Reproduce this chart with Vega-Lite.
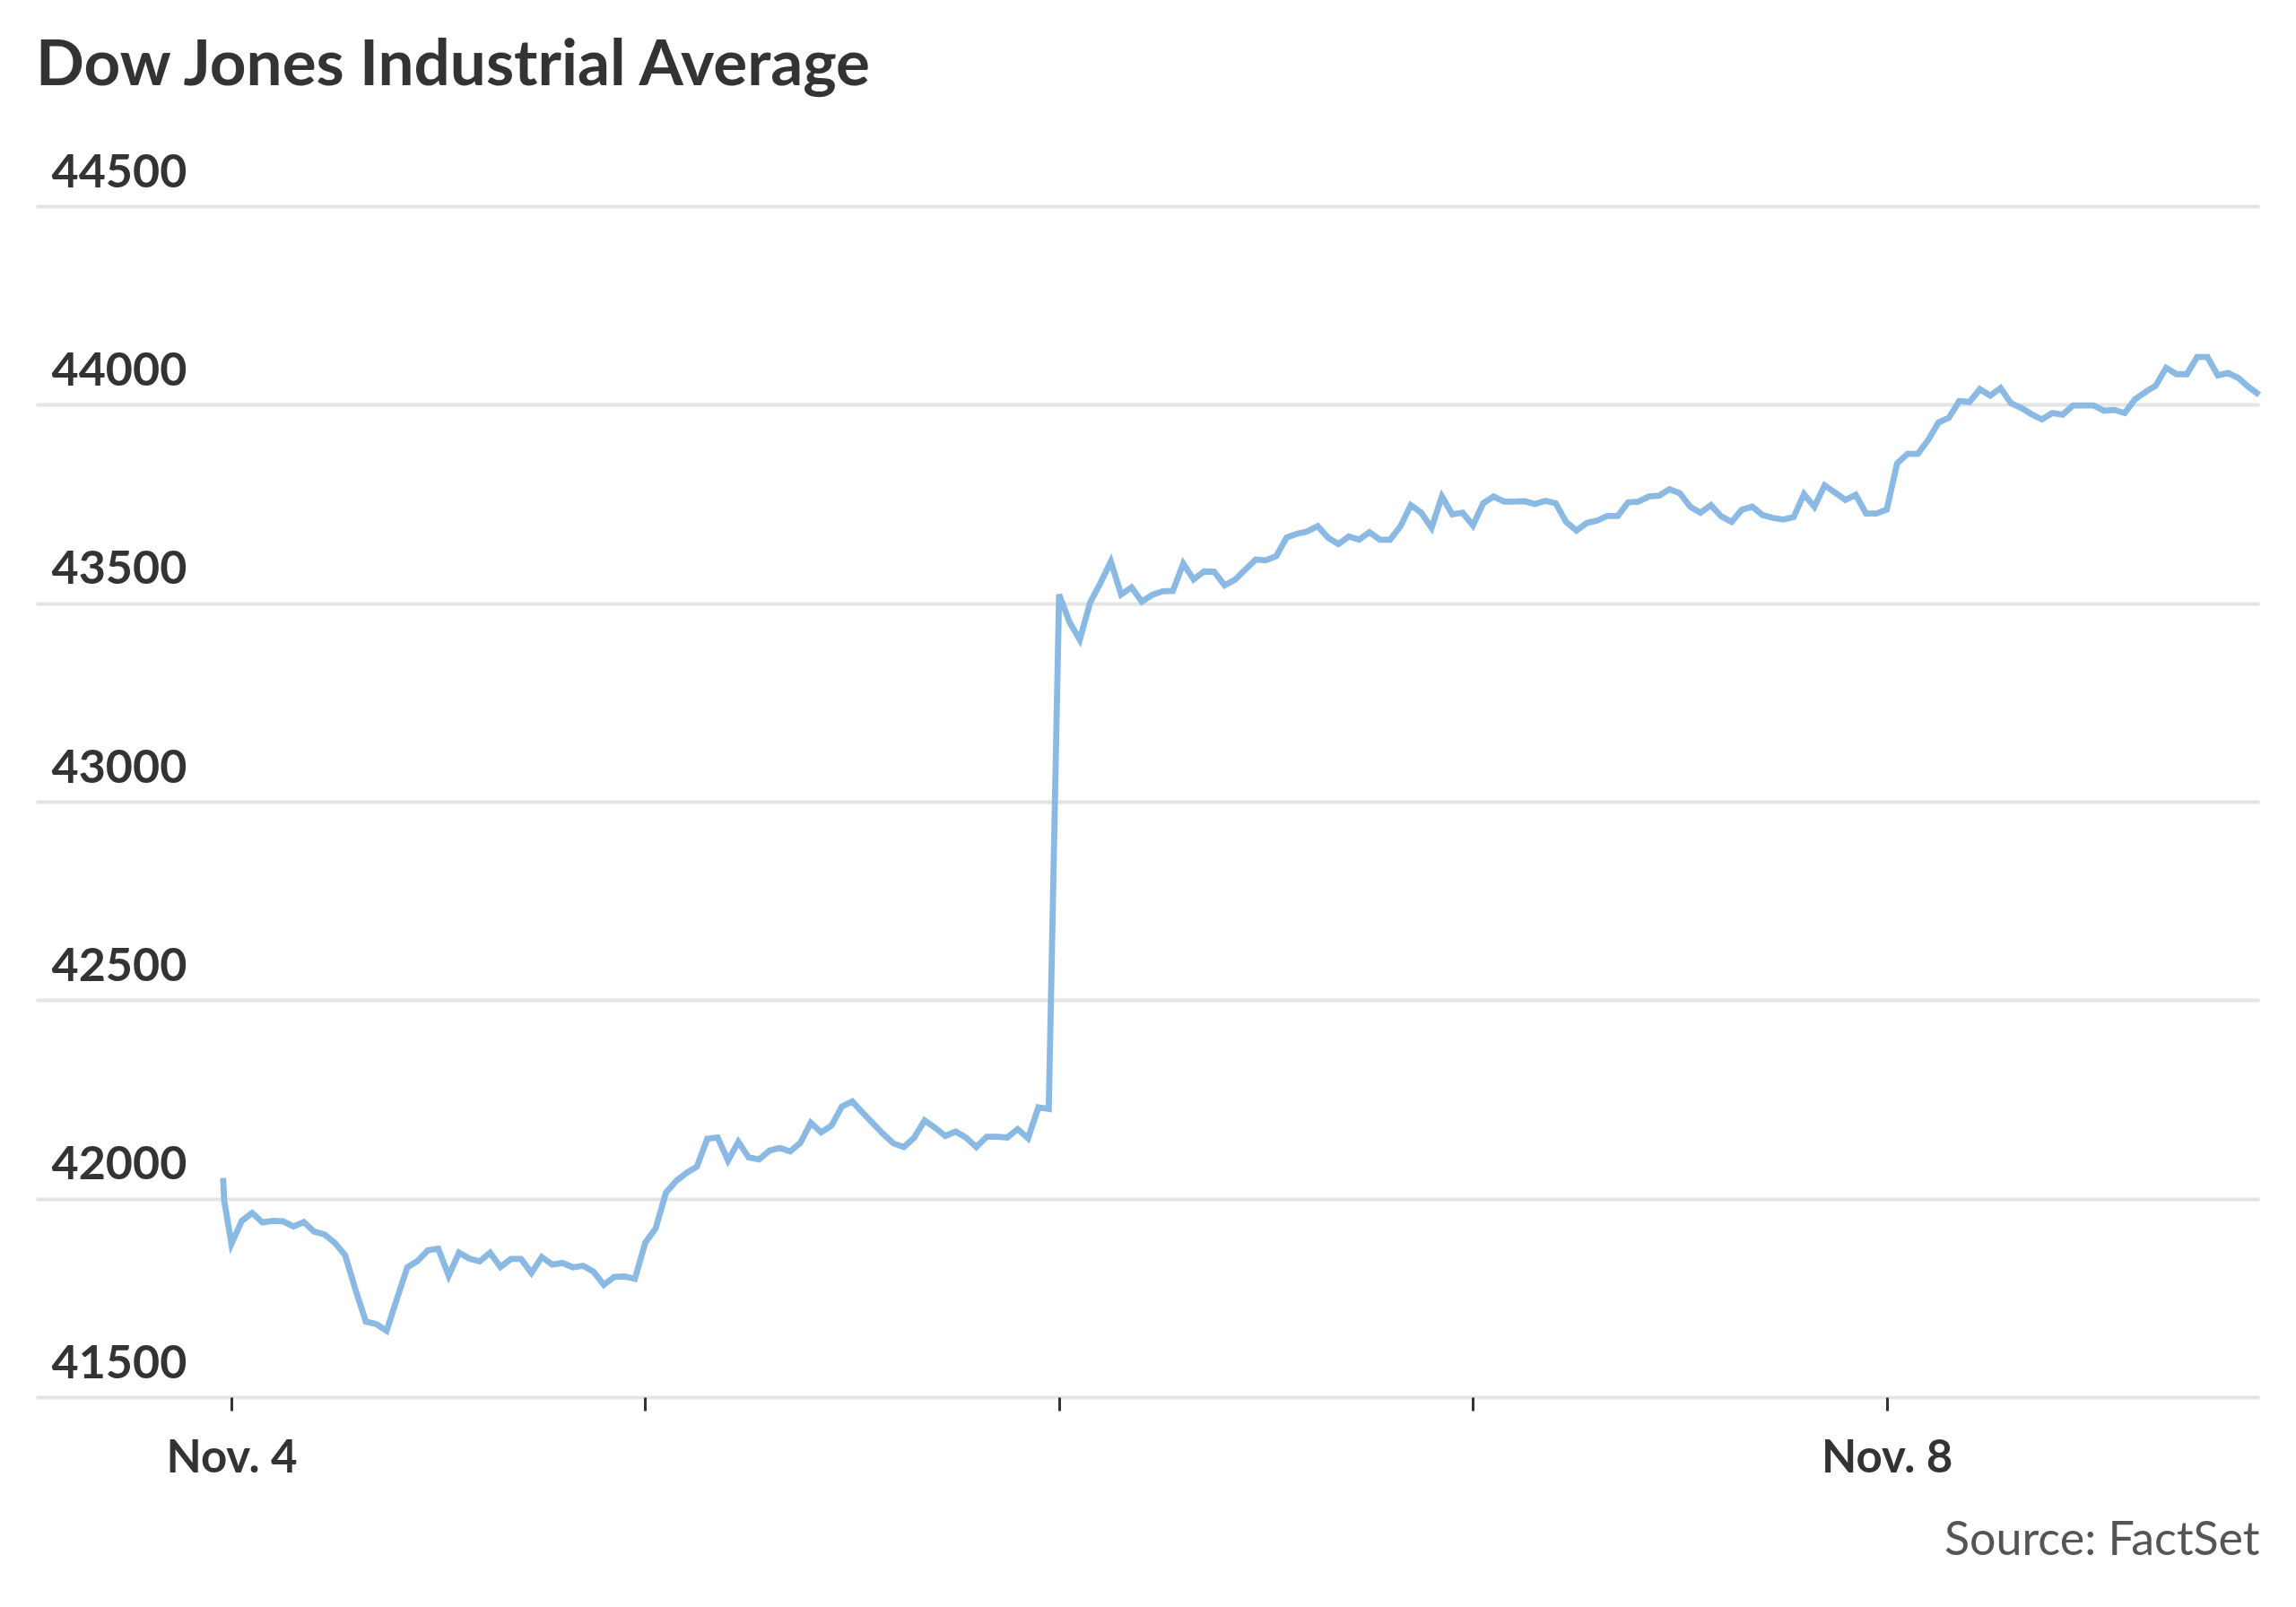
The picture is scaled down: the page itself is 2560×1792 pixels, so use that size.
{
  "$schema": "https://vega.github.io/schema/vega-lite/v6.json",
  "width": 2479,
  "height": 1328,
  "autosize": {"type": "none"},
  "padding": {"left": 40, "top": 230, "right": 41, "bottom": 234},
  "background": "white",
  "config": {"view": {"stroke": null}},
  "title": {
    "text": "Dow Jones Industrial Average",
    "anchor": "start",
    "frame": "group",
    "font": "Lato",
    "fontWeight": "bold",
    "fontSize": 71,
    "color": "#333333",
    "baseline": "alphabetic",
    "offset": 0
  },
  "data": {
    "values": [
      {"minute": -8, "value": 42052}, {"minute": -7, "value": 41996},
      {"minute": 0, "value": 41886}, {"minute": 10, "value": 41944}, {"minute": 20, "value": 41964}, {"minute": 30, "value": 41940},
      {"minute": 40, "value": 41944}, {"minute": 50, "value": 41943}, {"minute": 60, "value": 41930}, {"minute": 70, "value": 41941},
      {"minute": 80, "value": 41917}, {"minute": 90, "value": 41910}, {"minute": 100, "value": 41889}, {"minute": 110, "value": 41857},
      {"minute": 120, "value": 41770}, {"minute": 130, "value": 41690}, {"minute": 140, "value": 41684}, {"minute": 150, "value": 41667},
      {"minute": 160, "value": 41748}, {"minute": 170, "value": 41827}, {"minute": 180, "value": 41843}, {"minute": 190, "value": 41870},
      {"minute": 200, "value": 41874}, {"minute": 210, "value": 41806}, {"minute": 220, "value": 41864}, {"minute": 230, "value": 41849},
      {"minute": 240, "value": 41842}, {"minute": 250, "value": 41864}, {"minute": 260, "value": 41828}, {"minute": 270, "value": 41848},
      {"minute": 280, "value": 41848}, {"minute": 290, "value": 41813}, {"minute": 300, "value": 41853}, {"minute": 310, "value": 41834},
      {"minute": 320, "value": 41838}, {"minute": 330, "value": 41827}, {"minute": 340, "value": 41831}, {"minute": 350, "value": 41816},
      {"minute": 360, "value": 41783}, {"minute": 370, "value": 41803}, {"minute": 380, "value": 41804}, {"minute": 390, "value": 41798},
      {"minute": 400, "value": 41889}, {"minute": 410, "value": 41925}, {"minute": 420, "value": 42015}, {"minute": 430, "value": 42045},
      {"minute": 440, "value": 42065}, {"minute": 450, "value": 42081}, {"minute": 460, "value": 42151}, {"minute": 470, "value": 42154},
      {"minute": 480, "value": 42096}, {"minute": 490, "value": 42143}, {"minute": 500, "value": 42104}, {"minute": 510, "value": 42099},
      {"minute": 520, "value": 42121}, {"minute": 530, "value": 42128}, {"minute": 540, "value": 42119}, {"minute": 550, "value": 42141},
      {"minute": 560, "value": 42191}, {"minute": 570, "value": 42167}, {"minute": 580, "value": 42184}, {"minute": 590, "value": 42232},
      {"minute": 600, "value": 42245}, {"minute": 610, "value": 42217}, {"minute": 620, "value": 42190}, {"minute": 630, "value": 42163},
      {"minute": 640, "value": 42139}, {"minute": 650, "value": 42130}, {"minute": 660, "value": 42154}, {"minute": 670, "value": 42197},
      {"minute": 680, "value": 42179}, {"minute": 690, "value": 42158}, {"minute": 700, "value": 42169}, {"minute": 710, "value": 42154},
      {"minute": 720, "value": 42130}, {"minute": 730, "value": 42156}, {"minute": 740, "value": 42156}, {"minute": 750, "value": 42154},
      {"minute": 760, "value": 42175}, {"minute": 770, "value": 42152}, {"minute": 780, "value": 42230}, {"minute": 790, "value": 42226},
      {"minute": 800, "value": 43522}, {"minute": 810, "value": 43453}, {"minute": 820, "value": 43408}, {"minute": 830, "value": 43502},
      {"minute": 840, "value": 43551}, {"minute": 850, "value": 43605}, {"minute": 860, "value": 43522}, {"minute": 870, "value": 43540},
      {"minute": 880, "value": 43504}, {"minute": 890, "value": 43521}, {"minute": 900, "value": 43530}, {"minute": 910, "value": 43531},
      {"minute": 920, "value": 43600}, {"minute": 930, "value": 43560}, {"minute": 940, "value": 43580}, {"minute": 950, "value": 43579},
      {"minute": 960, "value": 43545}, {"minute": 970, "value": 43559}, {"minute": 980, "value": 43585}, {"minute": 990, "value": 43610},
      {"minute": 1000, "value": 43608}, {"minute": 1010, "value": 43619}, {"minute": 1020, "value": 43666}, {"minute": 1030, "value": 43675},
      {"minute": 1040, "value": 43681}, {"minute": 1050, "value": 43694}, {"minute": 1060, "value": 43665}, {"minute": 1070, "value": 43649},
      {"minute": 1080, "value": 43668}, {"minute": 1090, "value": 43660}, {"minute": 1100, "value": 43679}, {"minute": 1110, "value": 43660},
      {"minute": 1120, "value": 43660}, {"minute": 1130, "value": 43694}, {"minute": 1140, "value": 43747}, {"minute": 1150, "value": 43728},
      {"minute": 1160, "value": 43690}, {"minute": 1170, "value": 43769}, {"minute": 1180, "value": 43724}, {"minute": 1190, "value": 43728},
      {"minute": 1200, "value": 43696}, {"minute": 1210, "value": 43752}, {"minute": 1220, "value": 43769}, {"minute": 1230, "value": 43756},
      {"minute": 1240, "value": 43756}, {"minute": 1250, "value": 43757}, {"minute": 1260, "value": 43750}, {"minute": 1270, "value": 43758},
      {"minute": 1280, "value": 43752}, {"minute": 1290, "value": 43705}, {"minute": 1300, "value": 43683}, {"minute": 1310, "value": 43702},
      {"minute": 1320, "value": 43708}, {"minute": 1330, "value": 43720}, {"minute": 1340, "value": 43720}, {"minute": 1350, "value": 43754},
      {"minute": 1360, "value": 43756}, {"minute": 1370, "value": 43769}, {"minute": 1380, "value": 43771}, {"minute": 1390, "value": 43787},
      {"minute": 1400, "value": 43777}, {"minute": 1410, "value": 43743}, {"minute": 1420, "value": 43728}, {"minute": 1430, "value": 43747},
      {"minute": 1440, "value": 43719}, {"minute": 1450, "value": 43705}, {"minute": 1460, "value": 43736}, {"minute": 1470, "value": 43743},
      {"minute": 1480, "value": 43722}, {"minute": 1490, "value": 43715}, {"minute": 1500, "value": 43711}, {"minute": 1510, "value": 43717},
      {"minute": 1520, "value": 43775}, {"minute": 1530, "value": 43743}, {"minute": 1540, "value": 43797}, {"minute": 1550, "value": 43779},
      {"minute": 1560, "value": 43760}, {"minute": 1570, "value": 43773}, {"minute": 1580, "value": 43726}, {"minute": 1590, "value": 43726},
      {"minute": 1600, "value": 43736}, {"minute": 1610, "value": 43852}, {"minute": 1620, "value": 43876}, {"minute": 1630, "value": 43876},
      {"minute": 1640, "value": 43911}, {"minute": 1650, "value": 43955}, {"minute": 1660, "value": 43967}, {"minute": 1670, "value": 44009},
      {"minute": 1680, "value": 44007}, {"minute": 1690, "value": 44039}, {"minute": 1700, "value": 44023}, {"minute": 1710, "value": 44042},
      {"minute": 1720, "value": 44004}, {"minute": 1730, "value": 43992}, {"minute": 1740, "value": 43976}, {"minute": 1750, "value": 43963},
      {"minute": 1760, "value": 43979}, {"minute": 1770, "value": 43975}, {"minute": 1780, "value": 43998}, {"minute": 1790, "value": 43998},
      {"minute": 1800, "value": 43998}, {"minute": 1810, "value": 43985}, {"minute": 1820, "value": 43987}, {"minute": 1830, "value": 43979},
      {"minute": 1840, "value": 44014}, {"minute": 1850, "value": 44032}, {"minute": 1860, "value": 44048}, {"minute": 1870, "value": 44093},
      {"minute": 1880, "value": 44077}, {"minute": 1890, "value": 44077}, {"minute": 1900, "value": 44120}, {"minute": 1910, "value": 44120},
      {"minute": 1920, "value": 44074}, {"minute": 1930, "value": 44080}, {"minute": 1940, "value": 44067}, {"minute": 1950, "value": 44044},
      {"minute": 1960, "value": 44025}
    ]
  },
  "mark": {"type": "line", "color": "#8ab9e3", "strokeWidth": 6.8, "clip": false},
  "encoding": {
    "x": {
      "field": "minute",
      "type": "quantitative",
      "scale": {"domain": [-189, 1960], "nice": false, "zero": false},
      "axis": {
        "values": [0, 400, 800, 1200, 1600],
        "labelExpr": "datum.value == 0 ? 'Nov. 4' : datum.value == 1600 ? 'Nov. 8' : ''",
        "grid": false,
        "domain": false,
        "ticks": true,
        "tickSize": 15,
        "tickWidth": 3,
        "tickColor": "#333333",
        "labelFont": "Lato",
        "labelFontWeight": "bold",
        "labelFontSize": 51,
        "labelColor": "#333333",
        "labelBaseline": "alphabetic",
        "labelPadding": 68,
        "labelFlush": false,
        "labelOverlap": false,
        "labelBound": false,
        "title": "Source: FactSet",
        "titleFont": "Lato",
        "titleFontWeight": "normal",
        "titleFontSize": 52,
        "titleColor": "#555555",
        "titleAlign": "right",
        "titleBaseline": "alphabetic",
        "titleAnchor": "end",
        "titleX": 2479,
        "titleY": 175
      }
    },
    "y": {
      "field": "value",
      "type": "quantitative",
      "scale": {"domain": [41500, 44500], "nice": false, "zero": false},
      "axis": {
        "values": [41500, 42000, 42500, 43000, 43500, 44000, 44500],
        "format": "d",
        "grid": true,
        "gridColor": "#e4e4e4",
        "gridWidth": 4,
        "domain": false,
        "ticks": false,
        "tickSize": 0,
        "labelAlign": "left",
        "labelBaseline": "alphabetic",
        "labelOffset": -22,
        "labelPadding": -17,
        "labelFont": "Lato",
        "labelFontWeight": "bold",
        "labelFontSize": 52,
        "labelColor": "#333333",
        "labelFlush": false,
        "labelOverlap": false,
        "labelBound": false,
        "title": null
      }
    }
  }
}
